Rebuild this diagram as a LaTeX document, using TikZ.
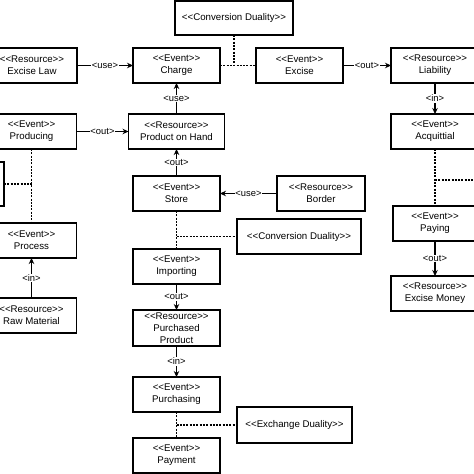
\documentclass[tikz,border=0pt]{standalone}
\usepackage{fontspec}
\setmainfont{Liberation Sans}[Ligatures=TeXOff]
\usepackage{tikz}
\usetikzlibrary{arrows.meta, positioning, calc}
\newcommand{\boxfont}{\fontsize{9.7}{12}\selectfont}
\newcommand{\relfont}{\fontsize{9.4}{10}\selectfont}
\tikzset{box/.style = {
  % Rectangle:
  rectangle,
  draw=black, line width=1.5pt, fill=white,
  minimum width=87pt, minimum height=35pt,
  inner sep=1pt, outer sep=0pt,
  % Text
  text centered, align=center,
  font=\boxfont
  }}
\tikzset{arrow/.style = {
  -{Stealth[length=6pt, width=5.5pt]},
  line width=1.2pt,
  draw=black
  }}
\tikzset{dual/.style = {
  line width=1.6pt,
  dash pattern=on 2pt off 1.3pt
  }}
\tikzset{rel/.style = {
  fill=white, inner sep=0.6pt,
  font=\relfont
  }}

\begin{document}
\begin{tikzpicture}[x=1pt, y=-1pt]
\clip (0,0) rectangle (474,474);

% NODES
\node (cdtop) [box, minimum width=118pt, minimum height=34pt] at (234,18) {<<Conversion Duality>>};

\node (charge) [box] at (176.5,65.5) {<<Event>>\\Charge};
\node (law) [box, minimum width=90pt, left=56pt of charge] {<<Resource>>\\Excise Law};
\node (excise) [box, right=36pt of charge] {<<Event>>\\Excise};
\node (liab) [box, minimum width=88pt, right=48pt of excise] {<<Resource>>\\Liability};

\node (poh) [box, minimum width=96pt, below=31pt of charge] {<<Resource>>\\Product on Hand};
\node (producing) [box, minimum width=90pt, left=52pt of poh] {<<Event>>\\Producing};
\node (acq) [box, minimum width=88pt, below=31pt of liab] {<<Event>>\\Acquittial};

\node (store) [box, below=27pt of poh] {<<Event>>\\Store};
\node (border) [box, minimum width=88pt, right=57pt of store] {<<Resource>>\\Border};
\node (cdleft) [box, minimum width=68pt, minimum height=44pt] at (-30,184) {};
\node (cdmid) [box, minimum width=124pt] at (299,236.5) {<<Conversion Duality>>};

\node (process) [box, minimum width=90pt, below=74pt of producing] {<<Event>>\\Process};
\node (raw) [box, minimum width=90pt, below=40pt of process] {<<Resource>>\\Raw Material};

\node (importing) [box, below=38pt of store] {<<Event>>\\Importing};
\node (purchased) [box, minimum height=36pt, below=26pt of importing] {<<Resource>>\\Purchased\\Product};
\node (purchasing) [box, below=31pt of purchased] {<<Event>>\\Purchasing};
\node (exduality) [box, minimum width=115pt, minimum height=36pt] at (294.5,425) {<<Exchange Duality>>};
\node (payment) [box, below=26pt of purchasing] {<<Event>>\\Payment};

\node (paying) [box, minimum width=84pt, below=57pt of acq] {<<Event>>\\Paying};
\node (money) [box, minimum width=88pt, below=35pt of paying] {<<Resource>>\\Excise Money};

\coordinate (rightdual) at (480,180);

% dualities
\draw [dual] (charge) -- (excise);
\draw [dual] (cdtop) -- (cdtop |- charge);
\draw [dual] (store) -- (importing);
\draw [dual] (store |- cdmid) -- (cdmid);
\draw [dual] (purchasing) -- (payment);
\draw [dual] (purchasing |- exduality) -- (exduality);
\draw [dual] (producing) -- (process);
\draw [dual] (cdleft) -- (process |- cdleft);
\draw [dual] (acq) -- (paying);
\draw [dual] (acq |- rightdual) -- (rightdual);

% arrows
\draw [arrow] (law) -- node[rel] {<use>} (charge);
\draw [arrow] (excise) -- node[rel] {<out>} (liab);
\draw [arrow] (liab) -- node[rel] {<in>} (acq);
\draw [arrow] (producing) -- node[rel] {<out>} (poh);
\draw [arrow] (poh) -- node[rel] {<use>} (charge);
\draw [arrow] (store) -- node[rel] {<out>} (poh);
\draw [arrow] (border) -- node[rel] {<use>} (store);
\draw [arrow] (raw) -- node[rel] {<in>} (process);
\draw [arrow] (importing) -- node[rel] {<out>} (purchased);
\draw [arrow] (purchased) -- node[rel] {<in>} (purchasing);
\draw [arrow] (paying) -- node[rel] {<out>} (money);
\end{tikzpicture}
\end{document}
